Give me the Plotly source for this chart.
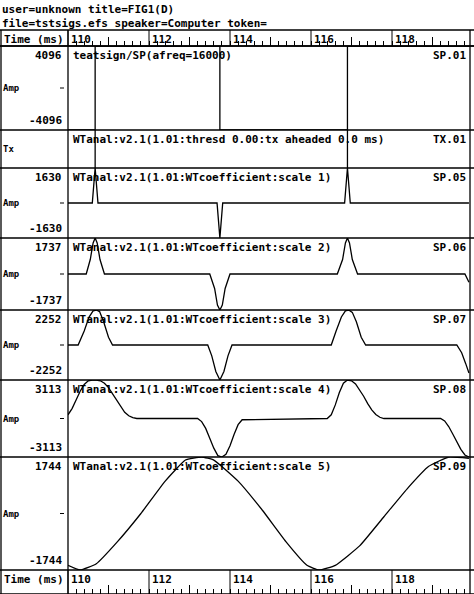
import plotly.graph_objects as go

W, H = 474, 594
X0, X1 = 68, 470  # plot area left/right in px

# ---- data ----
sig_t = [110.0, 110.67, 110.67, 113.75, 113.75, 116.9, 116.9, 119.9]
sig_v = [-4096, -4096, 4096, 4096, -4096, -4096, 4096, 4096]

tx_t = [110.67, 110.67, None, 116.9, 116.9]
tx_v = [-1, 1, None, -1, 1]

s1_t = [110.0, 110.6, 110.67, 110.74, 113.68, 113.75, 113.82, 116.83, 116.9, 116.97, 119.9]
s1_v = [0, 0, 1630, 0, 0, -1630, 0, 0, 1630, 0, 0]

s2_t = [110.0, 110.45, 110.55, 110.62, 110.67, 110.72, 110.79, 110.9, 113.5, 113.62, 113.69,
        113.75, 113.81, 113.88, 114.0, 116.65, 116.78, 116.85, 116.9, 116.95, 117.02, 117.15,
        119.8, 119.9]
s2_v = [0, 0, 700, 1500, 1737, 1500, 700, 0, 0, -700, -1500,
        -1737, -1500, -700, 0, 0, 700, 1500, 1737, 1500, 700, 0,
        0, -400]

s3_t = [110.0, 110.25, 110.4, 110.52, 110.62, 110.7, 110.78, 110.88, 111.0, 111.1, 113.45,
        113.55, 113.65, 113.75, 113.85, 113.95, 114.05, 116.5, 116.62, 116.75, 116.85, 116.93,
        117.02, 117.12, 117.24, 117.35, 119.6, 119.72, 119.82, 119.9]
s3_v = [0, 0, 900, 1800, 2200, 2252, 2150, 1500, 500, 0, 0,
        -700, -1700, -2252, -1700, -700, 0, 0, 900, 1800, 2200, 2252,
        2100, 1500, 500, 0, 0, -500, -1200, -1800]

s4_t = [110.0, 110.1, 110.2, 110.3, 110.4, 110.5, 110.6, 110.7, 110.8, 110.9, 111.0, 111.1,
        111.2, 111.3, 111.4, 111.5, 111.6, 111.7, 113.2, 113.3, 113.4, 113.5, 113.6, 113.7,
        113.8, 113.9, 114.0, 114.1, 114.2, 114.3, 116.4, 116.5, 116.6, 116.7, 116.8, 116.9,
        117.0, 117.1, 117.2, 117.3, 117.4, 117.5, 117.6, 117.7, 117.8, 119.2, 119.3, 119.4,
        119.5, 119.6, 119.7, 119.8, 119.9]
s4_v = [300, 800, 1500, 2200, 2750, 3050, 3113, 3113, 3050, 2850, 2500, 2000,
        1450, 900, 500, 220, 70, 0, 0, -250, -800, -1600, -2400, -3000,
        -3113, -2900, -2200, -1300, -500, -100, 0, 300, 1100, 2100, 2850, 3113,
        3050, 2800, 2350, 1800, 1200, 700, 330, 100, 0, 0, -200, -650,
        -1250, -1900, -2500, -2950, -3113]

s5_t = [110.0, 110.3, 110.7, 111.2, 111.8, 112.4, 112.9, 113.3, 113.6, 114.2, 114.8,
        115.4, 115.9, 116.2, 116.6, 117.2, 117.8, 118.4, 118.9, 119.4, 119.9]
s5_v = [-1600, -1744, -1550, -900, 0, 1000, 1650, 1744, 1650, 1000, 100,
        -900, -1600, -1744, -1600, -1000, -100, 800, 1450, 1744, 1700]

panels = [
    # (top px, bottom px, t, v, amp, title, tag, ylabel, shape)
    (46, 130, sig_t, sig_v, 4096, "teatsign/SP(afreq=16000)", "SP.01", "Amp", "linear"),
    (130, 168, tx_t, tx_v, 1, "WTanal:v2.1(1.01:thresd 0.00:tx aheaded 0.0 ms)", "TX.01", "Tx", "linear"),
    (168, 238, s1_t, s1_v, 1630, "WTanal:v2.1(1.01:WTcoefficient:scale 1)", "SP.05", "Amp", "linear"),
    (238, 310, s2_t, s2_v, 1737, "WTanal:v2.1(1.01:WTcoefficient:scale 2)", "SP.06", "Amp", "linear"),
    (310, 380, s3_t, s3_v, 2252, "WTanal:v2.1(1.01:WTcoefficient:scale 3)", "SP.07", "Amp", "linear"),
    (380, 457, s4_t, s4_v, 3113, "WTanal:v2.1(1.01:WTcoefficient:scale 4)", "SP.08", "Amp", "linear"),
    (457, 570, s5_t, s5_v, 1744, "WTanal:v2.1(1.01:WTcoefficient:scale 5)", "SP.09", "Amp", "spline"),
]
strips = [(30, 46), (570, 594)]
major_ticks = [110, 112, 114, 116, 118]

FONT = dict(family="DejaVu Sans Mono", size=11, color="black")


def py(p):
    return 1 - p / H


def px(p):
    return p / W


fig = go.Figure()
layout = dict(
    width=W, height=H, margin=dict(l=0, r=0, t=0, b=0),
    paper_bgcolor="white", plot_bgcolor="white", showlegend=False,
    font=FONT,
)
annotations = []
shapes = []
xr = [110, 110 + (X1 - X0) / 40.5]

for i, (top, bot, t, v, amp, title, tag, ylab, shp) in enumerate(panels, 1):
    yname = "y" if i == 1 else f"y{i}"
    xname = "x" if i == 1 else f"x{i}"
    fig.add_trace(go.Scatter(x=t, y=v, mode="lines", xaxis=xname, yaxis=yname,
                             line=dict(color="black", width=1.3, shape=shp, smoothing=0.4)))
    layout[f"xaxis{'' if i == 1 else i}"] = dict(
        domain=[px(X0), px(X1)], range=xr, anchor=yname, visible=False)
    layout[f"yaxis{'' if i == 1 else i}"] = dict(
        domain=[py(bot), py(top)], range=[-amp * 1.0, amp * 1.0], anchor=xname, visible=False)
    annotations.append(dict(x=px(X0 + 3), y=py(top + 1), xref="paper", yref="paper",
                            text=f"<b>{title}</b>", showarrow=False, xanchor="left", yanchor="top"))
    annotations.append(dict(x=px(X1 - 2), y=py(top + 1), xref="paper", yref="paper",
                            text=f"<b>{tag}</b>", showarrow=False, xanchor="right", yanchor="top"))
    mid = (top + bot) / 2
    annotations.append(dict(x=px(1), y=py(mid), xref="paper", yref="paper",
                            text=f"<b>{ylab}</b>", showarrow=False, xanchor="left", yanchor="middle",
                            font=dict(size=9)))
    if ylab == "Amp":
        annotations.append(dict(x=px(64), y=py(top + 1), xref="paper", yref="paper",
                                text=f"<b>{amp}</b>", showarrow=False, xanchor="right", yanchor="top"))
        annotations.append(dict(x=px(64), y=py(bot - 1), xref="paper", yref="paper",
                                text=f"<b>-{amp}</b>", showarrow=False, xanchor="right", yanchor="bottom"))
        shapes.append(dict(type="line", xref="paper", yref="paper", x0=px(60), x1=px(64),
                           y0=py(mid), y1=py(mid), line=dict(color="black", width=1)))
    shapes.append(dict(type="line", xref="paper", yref="paper", x0=0, x1=1,
                       y0=py(top), y1=py(top), line=dict(color="black", width=1.3)))

# time strips at top and bottom
for j, (top, bot) in enumerate(strips):
    k = len(panels) + 1 + j
    layout[f"xaxis{k}"] = dict(
        domain=[px(X0), px(X1)], range=xr, anchor=f"y{k}", side="bottom",
        showticklabels=False, showgrid=False, zeroline=False, showline=False,
        ticks="inside", tickvals=[111, 113, 115, 117, 119], ticklen=9,
        tickcolor="black", tickwidth=1,
        minor=dict(dtick=0.2, tick0=110, ticks="inside", ticklen=5, tickcolor="black"),
    )
    layout[f"yaxis{k}"] = dict(domain=[py(bot), py(top)], range=[0, 1],
                               anchor=f"x{k}", visible=False)
    fig.add_trace(go.Scatter(x=[None], y=[None], xaxis=f"x{k}", yaxis=f"y{k}"))
    annotations.append(dict(x=px(2), y=py(top + 1), xref="paper", yref="paper",
                            text="<b>Time (ms)</b>", showarrow=False, xanchor="left", yanchor="top"))
    for m in major_ticks:
        xm = X0 + (m - 110) * 40.5
        shapes.append(dict(type="line", xref="paper", yref="paper", x0=px(xm), x1=px(xm),
                           y0=py(top), y1=py(bot), line=dict(color="black", width=1)))
        annotations.append(dict(x=px(xm + 1), y=py(top + 1), xref="paper", yref="paper",
                                text=f"<b>{m}</b>", showarrow=False, xanchor="left", yanchor="top"))
    shapes.append(dict(type="line", xref="paper", yref="paper", x0=0, x1=1,
                       y0=py(top), y1=py(top), line=dict(color="black", width=1.3)))
    shapes.append(dict(type="line", xref="paper", yref="paper", x0=0, x1=1,
                       y0=py(bot), y1=py(bot), line=dict(color="black", width=1.3)))

# vertical frame lines
for xv in (1, X0, X1):
    shapes.append(dict(type="line", xref="paper", yref="paper", x0=px(xv), x1=px(xv),
                       y0=py(30), y1=py(594), line=dict(color="black", width=1.3)))

annotations.append(dict(x=0, y=py(1), xref="paper", yref="paper",
                        text="<b>user=unknown title=FIG1(D)</b>", showarrow=False,
                        xanchor="left", yanchor="top"))
annotations.append(dict(x=0, y=py(15), xref="paper", yref="paper",
                        text="<b>file=tstsigs.efs speaker=Computer token=</b>", showarrow=False,
                        xanchor="left", yanchor="top"))

layout["annotations"] = annotations
layout["shapes"] = shapes
fig.update_layout(**layout)
fig.write_html("out.html", config={"displayModeBar": False})

# drop the default body margin so the figure sits at the page corner
with open("out.html") as f:
    html = f.read()
html = html.replace("<body>", '<body style="margin:0;overflow:hidden">', 1)
with open("out.html", "w") as f:
    f.write(html)
